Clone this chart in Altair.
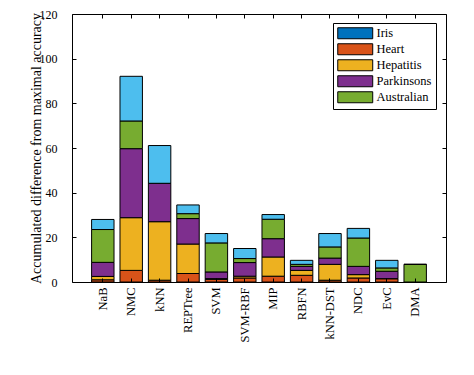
import altair as alt
import pandas as pd

methods = ["NaB", "NMC", "kNN", "REPTree", "SVM", "SVM-RBF", "MIP", "RBFN",
           "kNN-DST", "NDC", "EvC", "DMA"]
datasets = ["Iris", "Heart", "Hepatitis", "Parkinsons", "Australian", "Sonar"]
legend_names = ["Iris", "Heart", "Hepatitis", "Parkinsons", "Australian"]
colors = ["#0072BD", "#D95319", "#EDB120", "#7E2F8E", "#77AC30", "#4DBEEE"]

iris = [0, 0, 0, 0, 0, 0, 0, 0, 0, 0, 0, 0]
heart = [1.0, 5.2, 0.8, 3.8, 1.2, 1.8, 2.6, 3.0, 0.8, 1.8, 1.5, 0]
hepatitis = [1.5, 23.6, 26.2, 13.2, 0.3, 0.8, 8.6, 2.2, 7.1, 1.5, 0, 0]
parkinsons = [6.3, 30.9, 17.2, 11.4, 3.0, 6.1, 8.2, 1.8, 2.8, 3.7, 3.3, 0]
australian = [14.7, 12.4, 0, 2.2, 13.0, 1.8, 8.7, 0.9, 5.0, 12.7, 1.5, 7.9]
sonar = [4.5, 20.0, 16.9, 3.9, 4.2, 4.5, 2.1, 1.8, 6.0, 4.3, 3.4, 0]

series = [iris, heart, hepatitis, parkinsons, australian, sonar]
rows = []
for k, (name, vals) in enumerate(zip(datasets, series)):
    for m, v in zip(methods, vals):
        rows.append({"method": m, "dataset": name, "value": v, "k": k})
df = pd.DataFrame(rows)

serif = "Liberation Serif"
x_scale = alt.Scale(paddingInner=0.21, paddingOuter=0.69)
y_scale = alt.Scale(domain=[0, 120], nice=False)

bars = alt.Chart(df).mark_bar(stroke="black", strokeWidth=1).encode(
    x=alt.X("method:N", sort=methods, scale=x_scale,
            axis=alt.Axis(title=None, orient="bottom", offset=-4, tickSize=4,
                          tickColor="black", domain=False, labelAngle=-90,
                          labelPadding=5, labelFont=serif, labelFontSize=12.5,
                          labelColor="black", zindex=1)),
    y=alt.Y("value:Q", stack="zero", scale=y_scale,
            axis=alt.Axis(title="Accumulated difference from maximal accuracy",
                          orient="left", offset=-4, tickSize=4, tickColor="black",
                          domain=False, grid=False, values=[0, 20, 40, 60, 80, 100, 120],
                          labelPadding=15, labelFont=serif, labelFontSize=12,
                          labelColor="black", titleFont=serif, titleFontSize=14,
                          titleFontWeight="normal", titleColor="black",
                          titleX=-40, titleY=134, titleAngle=-90,
                          titleAlign="center", titleBaseline="middle", zindex=1)),
    color=alt.Color("dataset:N", sort=datasets,
                    scale=alt.Scale(domain=datasets, range=colors),
                    legend=alt.Legend(title=None, values=legend_names, orient="none",
                                      legendX=261, legendY=9,
                                      symbolType="M-1,-1H5.36V1H-1Z",
                                      symbolSize=121, symbolStrokeColor="black",
                                      symbolStrokeWidth=1, symbolOpacity=1,
                                      labelFont=serif, labelFontSize=12.5,
                                      labelColor="black", padding=4,
                                      strokeColor="black", fillColor="white",
                                      rowPadding=0, labelOffset=27)),
    order=alt.Order("k:Q", sort="ascending"),
)

frame = alt.Chart(df).mark_bar(opacity=0).encode(
    x=alt.X("method:N", sort=methods, scale=x_scale,
            axis=alt.Axis(title=None, orient="top", offset=-4, tickSize=4,
                          tickColor="black", domain=False, labels=False, zindex=1)),
    y=alt.Y("value:Q", stack="zero", scale=y_scale,
            axis=alt.Axis(title=None, orient="right", offset=-4, tickSize=4,
                          tickColor="black", domain=False, grid=False, labels=False,
                          values=[0, 20, 40, 60, 80, 100, 120], zindex=1)),
    order=alt.Order("k:Q", sort="ascending"),
)

chart = alt.layer(bars, frame).resolve_axis(x="independent", y="independent").properties(
    width=374, height=268,
    autosize=alt.AutoSizeParams(type="none"),
    padding={"left": 64, "top": 6, "right": 20, "bottom": 70},
).configure_view(stroke="black", strokeWidth=1)

chart.save("out.html", embed_options={"renderer": "svg", "actions": False})
